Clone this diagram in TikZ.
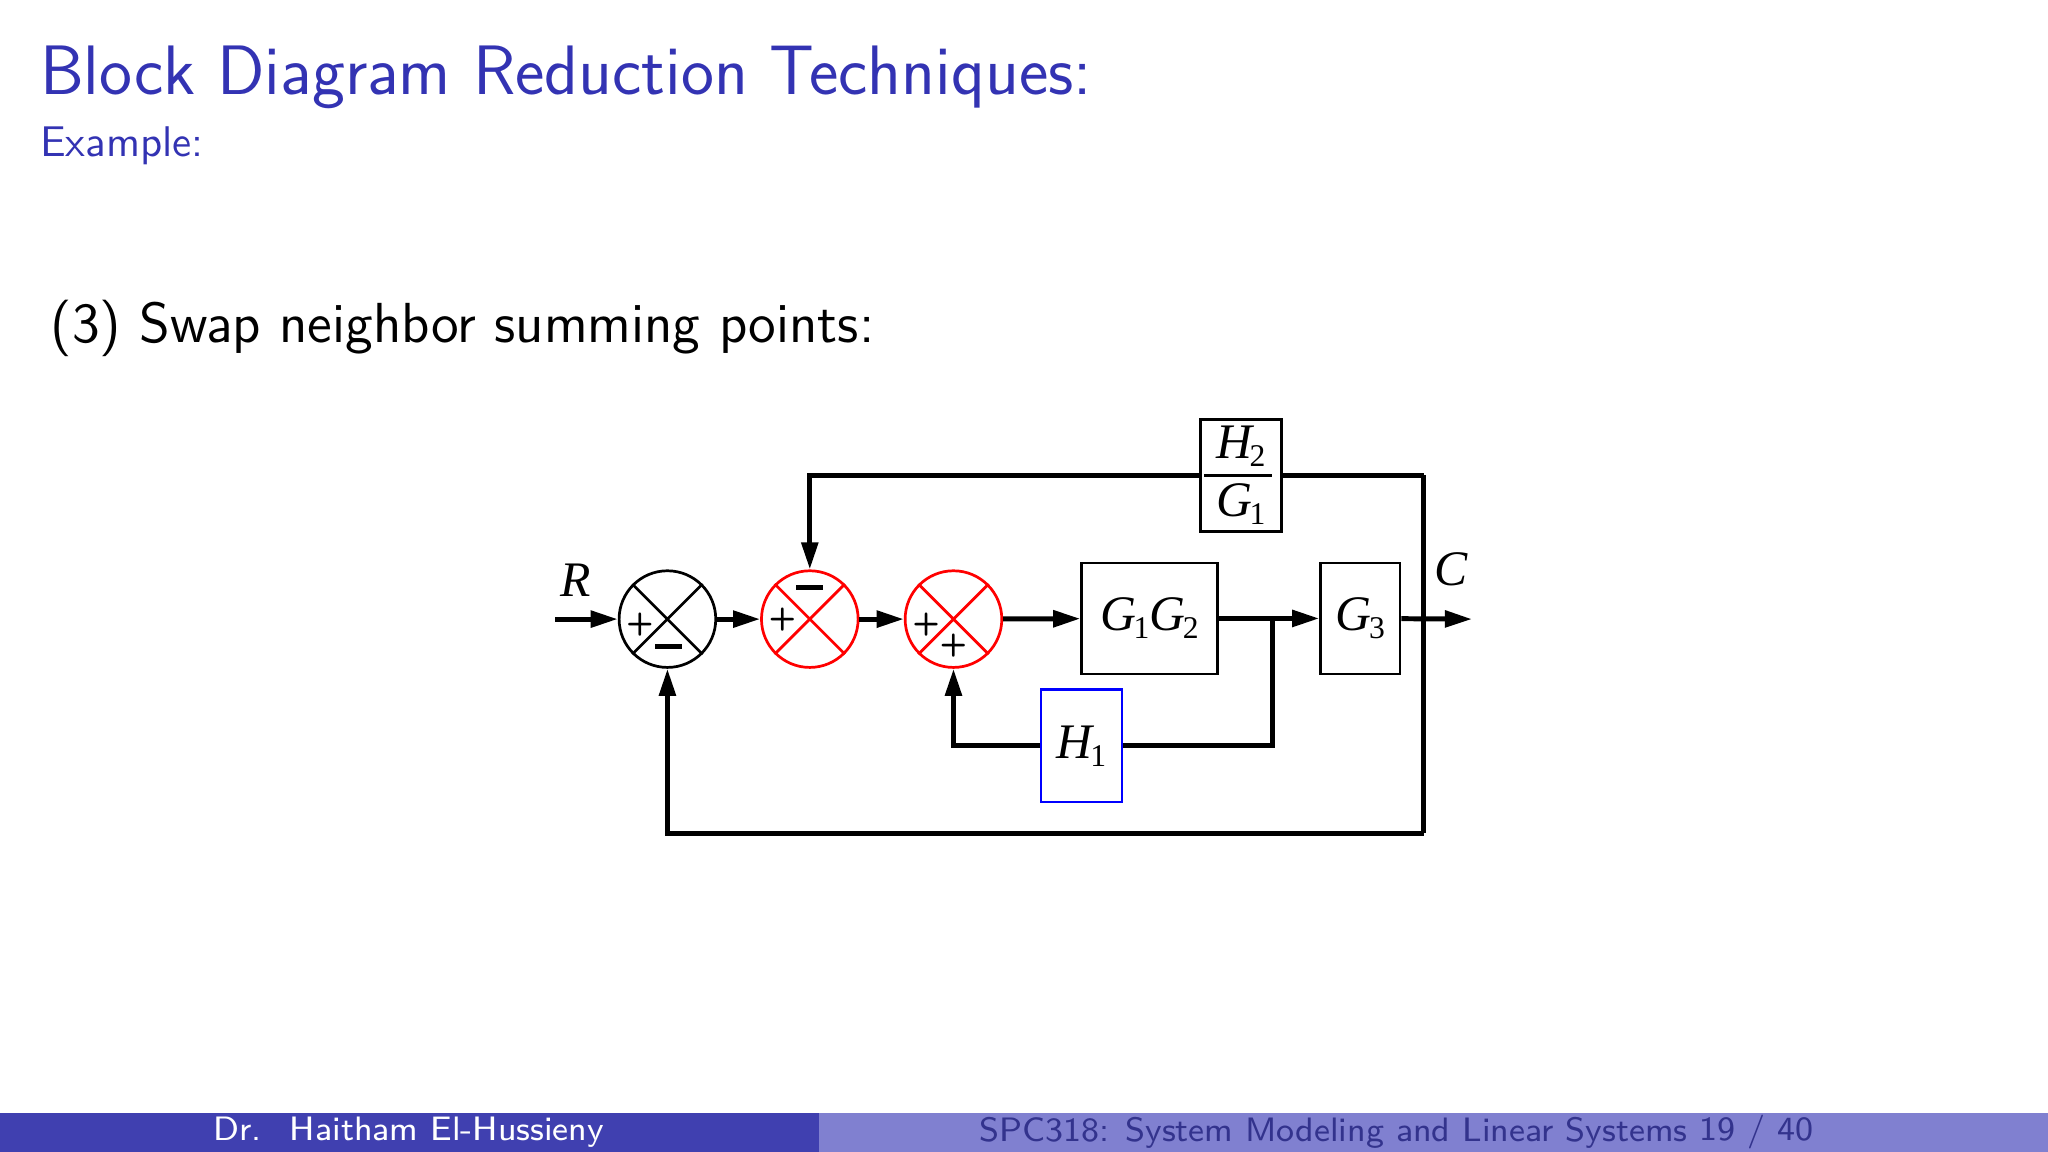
\documentclass[tikz,border=0pt]{standalone}
\usepackage{fontspec}
\newfontfamily\tms{Liberation Serif}
\usetikzlibrary{arrows.meta}
\definecolor{btitle}{RGB}{51,51,179}
\definecolor{bdark}{RGB}{64,64,176}
\definecolor{blight}{RGB}{128,128,208}
\newcommand{\vr}[2]{{\tms\itshape #1\kern-0.05em\raisebox{-0.35ex}{\upshape\fontsize{7}{7}\selectfont #2}}}
\begin{document}
\begin{tikzpicture}[x=0.2892pt,y=-0.2892pt,
  sig/.style={line width=1.1pt},
  arr/.style={sig,-{Triangle[length=6pt,width=3.6pt]}},
  sumb/.style={circle,draw,line width=0.6pt,minimum size=21.4pt,inner sep=0pt},
  blk/.style={draw,line width=0.6pt,inner sep=0pt,font=\fontsize{11}{13}\selectfont},
  sgn/.style={font=\sffamily\bfseries\fontsize{7}{7}\selectfont,inner sep=0pt}]
\useasboundingbox (0,0) rectangle (1568,882);
% title
\node[anchor=base west,text=btitle,font=\sffamily\fontsize{15.5}{18}\selectfont,inner sep=0pt] (title) at (30,72) {Block Diagram Reduction Techniques:};
\node[anchor=base west,text=btitle,font=\sffamily\fontsize{9.5}{11}\selectfont,inner sep=0pt] (ex) at (30,120) {Example:};
\node[anchor=base west,font=\sffamily\fontsize{12.5}{15}\selectfont,inner sep=0pt] (step3) at (38,262) {(3) Swap neighbor summing points:};
% footer
\fill[bdark] (0,852) rectangle (627,882);
\fill[blight] (627,852) rectangle (1568,882);
\node[text=white,font=\sffamily\fontsize{7.5}{9}\selectfont] (auth) at (313,867) {Dr.~ Haitham El-Hussieny};
\node[text=bdark!80!black,font=\sffamily\fontsize{7.5}{9}\selectfont] (course) at (1021,867) {SPC318: System Modeling and Linear Systems};
\node[text=bdark!80!black,font=\sffamily\fontsize{7.5}{9}\selectfont] (pg) at (1345,867) {19 / 40};
% summing points
\node[sumb] (s1) at (511,474) {};
\node[sumb,draw=red] (s2) at (620,474) {};
\node[sumb,draw=red] (s3) at (730,474) {};
\foreach \s/\c in {s1/black,s2/red,s3/red}{
  \draw[\c,line width=0.6pt] (\s.north west) -- (\s.south east) (\s.north east) -- (\s.south west);}
\node[sgn] (p1) at (490,478) {+};
\node[sgn] (m1) at (512,495) {\rule{6pt}{1.1pt}};
\node[sgn] (p2) at (599,474) {+};
\node[sgn] (m2) at (620,450) {\rule{6pt}{1.1pt}};
\node[sgn] (p3) at (709,478) {+};
\node[sgn] (p4) at (730,494) {+};
% blocks
\node[blk,minimum width=30pt,minimum height=24.6pt] (g12) at (880,473.5) {\vr{G}{1}\vr{G}{2}};
\node[blk,minimum width=17.6pt,minimum height=24.6pt] (g3) at (1041.5,473.5) {\vr{G}{3}};
\node[blk,draw=blue,minimum width=17.9pt,minimum height=24.9pt] (h1) at (828,571) {\vr{H}{1}};
\node[blk,minimum width=17.9pt,minimum height=24.9pt] (h2) at (950,364) {};
\node[inner sep=0pt,font=\fontsize{11}{13}\selectfont] (h2t) at (950,342) {\vr{H}{2}};
\node[inner sep=0pt,font=\fontsize{11}{13}\selectfont] (g1t) at (950,386) {\vr{G}{1}};
\draw[line width=0.5pt] (h2.west) ++(4,0) coordinate (fl) (h2.east) ++(-8,0) coordinate (fr);
\draw[line width=0.5pt] (fl) -- (fr);
% labels
\node[font=\tms\itshape\fontsize{11}{13}\selectfont] (R) at (441,444) {R};
\node[font=\tms\itshape\fontsize{11}{13}\selectfont] (C) at (1111,436) {C};
% coordinates
\coordinate (rin) at (425,474);
\coordinate (out) at (1127,474);
\coordinate (br) at (974,474);
\coordinate (brd) at (974,571);
\coordinate (h1l) at (730,571);
\coordinate (ob) at (1090,474);
\coordinate (ot) at (1090,364);
\coordinate (obot) at (1090,638);
\coordinate (tl) at (620,364);
\coordinate (bl) at (511,638);
% signals
\draw[arr] (rin) -- (s1);
\draw[arr] (s1) -- (s2);
\draw[arr] (s2) -- (s3);
\draw[arr] (s3) -- (g12);
\draw[arr] (g12) -- (g3);
\draw[arr] (g3) -- (out);
\draw[sig] (br) -- (brd) -- (h1);
\draw[arr] (h1) -- (h1l) -- (s3);
\draw[sig] (ot) -- (obot);
\draw[sig] (ot) -- (h2);
\draw[arr] (h2) -- (tl) -- (s2);
\draw[arr] (obot) -- (bl) -- (s1);
\end{tikzpicture}
\end{document}
